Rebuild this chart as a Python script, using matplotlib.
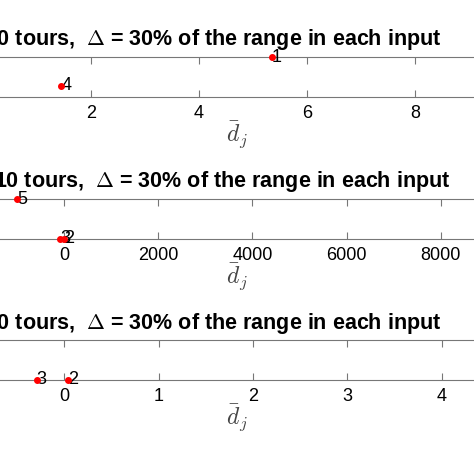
import matplotlib.pyplot as plt

plt.rcParams['font.family'] = ['Liberation Sans', 'DejaVu Sans']
plt.rcParams['mathtext.fontset'] = 'cm'

title_txt = "10 tours,  $\\Delta$ = 30% of the range in each input"

# subplot data: (x values, y values, point labels, xlim, ticks)
x1 = [5.35, 1.45]
y1 = [1.0, 0.28]
lab1 = ["1", "4"]
xlim1 = [0.315, 9.09]
ticks1 = [2, 4, 6, 8]

x2 = [-998, -85, 0]
y2 = [1.0, 0.0, 0.0]
lab2 = ["5", "3", "2"]
xlim2 = [-1359, 8705]
ticks2 = [0, 2000, 4000, 6000, 8000]

x3 = [-0.29, 0.04]
y3 = [0.0, 0.0]
lab3 = ["3", "2"]
xlim3 = [-0.678, 4.34]
ticks3 = [0, 1, 2, 3, 4]

data = [(x1, y1, lab1, xlim1, ticks1, 97, -0.032),
        (x2, y2, lab2, xlim2, ticks2, 239, -0.012),
        (x3, y3, lab3, xlim3, ticks3, 380, -0.032)]

fig = plt.figure(figsize=(4.74, 4.74), dpi=100)
for xs, ys, labs, xl, tk, ybot, tx in data:
    ax = fig.add_axes([0, 1 - ybot / 474, 1, 40 / 474])
    ax.plot(xs, ys, 'o', color='red', markersize=4, clip_on=False, zorder=5)
    for x, y, l in zip(xs, ys, labs):
        ax.text(x, y, l, fontsize=13, va='center', ha='left', clip_on=False)
    ax.set_xlim(xl)
    ax.set_ylim(0, 1)
    ax.set_xticks(tk)
    ax.set_yticks([])
    ax.tick_params(axis='x', direction='in', top=True, length=5, color='#777777',
                   labelsize=13, pad=6)
    for s in ['left', 'right']:
        ax.spines[s].set_visible(False)
    for s in ['top', 'bottom']:
        ax.spines[s].set_color('#777777')
    ax.set_xlabel(r'$\bar{d}_j$', fontsize=17, color='#444444', labelpad=-2)
    fig.text(tx, 1 - (ybot - 57) / 474, title_txt, fontsize=15.5, fontweight='bold',
             va='center', ha='left')

fig.savefig('out.png', dpi=100)
